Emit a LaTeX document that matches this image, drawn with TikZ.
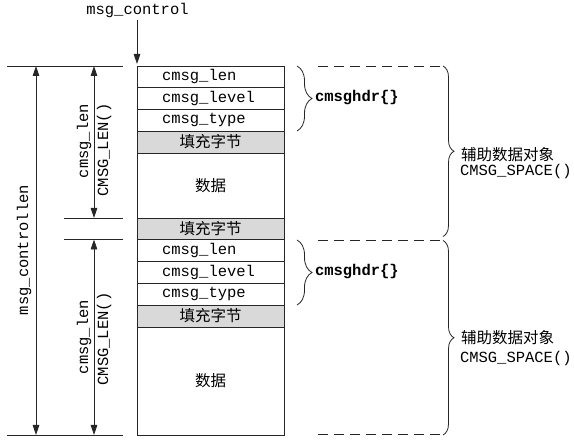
\documentclass[tikz,border=0pt]{standalone}
\usepackage{fontspec}
\setmonofont{Liberation Mono}
\newfontfamily\cjk{Noto Sans CJK SC}
\usetikzlibrary{arrows.meta,decorations.pathreplacing}
\begin{document}
\begin{tikzpicture}[x=1pt,y=-1pt,
  every node/.style={font=\ttfamily\fontsize{15.5}{18}\selectfont, inner sep=0pt, outer sep=0pt},
  line/.style={draw=black!85, line width=0.8pt},
  cell/.style={line, fill=white, minimum width=147pt, text width=97pt, inner xsep=25pt, align=left},
  pad/.style={cell, fill=black!15, align=center},
  dim/.style={line, {Triangle[length=10pt,width=6.5pt]}-{Triangle[length=10pt,width=6.5pt]}},
  dashline/.style={line, dash pattern=on 10pt off 6pt},
  bracebig/.style={line, decorate, decoration={brace, amplitude=#1}},
  lbl/.style={rotate=90}
]
\useasboundingbox (0,0) rectangle (574,443);

% ---- main column ----
\node[cell, minimum height=21.5pt] (r1) at (210.5,76.75) {cmsg\_len};
\node[cell, minimum height=21.5pt] (r2) at (210.5,98.25) {cmsg\_level};
\node[cell, minimum height=22pt]   (r3) at (210.5,120) {cmsg\_type};
\node[pad,  minimum height=22pt]   (f1) at (210.5,142) {\cjk 填充字节};
\node[pad,  fill=white, minimum height=65pt] (d1) at (210.5,185.5) {\cjk 数据};
\node[pad,  minimum height=21.5pt] (f2) at (210.5,228.75) {\cjk 填充字节};
\node[cell, minimum height=21.5pt] (r4) at (210.5,250.25) {cmsg\_len};
\node[cell, minimum height=22pt]   (r5) at (210.5,272) {cmsg\_level};
\node[cell, minimum height=22pt]   (r6) at (210.5,294) {cmsg\_type};
\node[pad,  minimum height=22pt]   (f3) at (210.5,316) {\cjk 填充字节};
\node[pad,  fill=white, minimum height=108pt] (d2) at (210.5,381) {\cjk 数据};

% ---- msg_control pointer ----
\node (mc) at (137.5,10) {msg\_control};
\draw[line, -{Triangle[length=10pt,width=6.5pt]}, shorten <=3pt, shorten >=2pt] (mc.south -| r1.north west) -- (r1.north west);

% ---- extension lines ----
\coordinate (a0) at (7,66);    \coordinate (a1) at (123,66);
\coordinate (b0) at (64,218);  \coordinate (b1) at (123,218);
\coordinate (c0) at (64,239.5);\coordinate (c1) at (123,239.5);
\coordinate (e0) at (7,435);   \coordinate (e1) at (123,435);
\draw[line] (a0) -- (a1);
\draw[line] (b0) -- (b1);
\draw[line] (c0) -- (c1);
\draw[line] (e0) -- (e1);

% ---- dimension arrows ----
\coordinate (m0) at (36,66);  \coordinate (m1) at (36,435);
\coordinate (k0) at (94,66);  \coordinate (k1) at (94,218);
\coordinate (k2) at (94,239.5); \coordinate (k3) at (94,435);
\draw[dim] (m0) -- (m1);
\draw[dim] (k0) -- (k1);
\draw[dim] (k2) -- (k3);

\node[lbl] (lm) at (24,250) {msg\_controllen};
\node[lbl] (la1) at (84,141) {cmsg\_len};
\node[lbl] (lb1) at (104,150) {CMSG\_LEN()};
\node[lbl] (la2) at (84,337) {cmsg\_len};
\node[lbl] (lb2) at (104,339) {CMSG\_LEN()};

% ---- right side ----
\coordinate (s0) at (297,66);  \coordinate (s1) at (297,131);
\coordinate (s2) at (297,240); \coordinate (s3) at (297,305);
\draw[bracebig=15pt] (s0) -- (s1);
\draw[bracebig=15pt] (s2) -- (s3);
\node[anchor=west, font=\ttfamily\bfseries\fontsize{15.5}{18}\selectfont] (h1) at (315,98) {cmsghdr\{\}};
\node[anchor=west, font=\ttfamily\bfseries\fontsize{15.5}{18}\selectfont] (h2) at (315,272) {cmsghdr\{\}};

\coordinate (u0) at (318,66);  \coordinate (u1) at (443,66);
\coordinate (v0) at (318,240); \coordinate (v1) at (443,240);
\coordinate (w0) at (318,434); \coordinate (w1) at (443,434);
\draw[dashline] (u0) -- (u1);
\draw[dashline] (v0) -- (v1);
\draw[dashline] (w0) -- (w1);

\coordinate (g0) at (443,66);  \coordinate (g1) at (443,236.5);
\coordinate (g2) at (443,240.5); \coordinate (g3) at (443,435);
\draw[bracebig=11pt] (g0) -- (g1);
\draw[bracebig=11pt] (g2) -- (g3);

\node[anchor=west] (o1) at (461,155) {\cjk 辅助数据对象};
\node[anchor=west] (p1) at (460,171) {CMSG\_SPACE()};
\node[anchor=west] (o2) at (461,338) {\cjk 辅助数据对象};
\node[anchor=west] (p2) at (460,358) {CMSG\_SPACE()};
\end{tikzpicture}
\end{document}
